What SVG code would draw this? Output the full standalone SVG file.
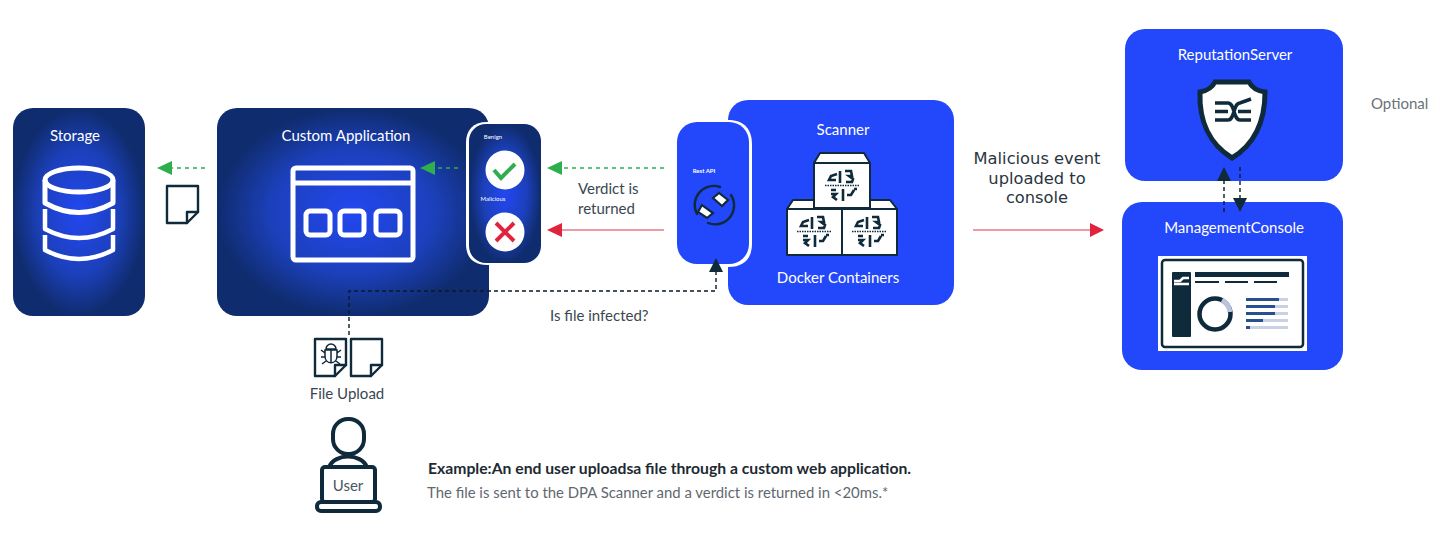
<svg xmlns="http://www.w3.org/2000/svg" width="1440" height="540" viewBox="0 0 1440 540">
<style>
text{font-family:"Lato","Noto Sans","Liberation Sans",sans-serif}
.w{fill:#fff;font-size:15px;text-anchor:middle}
.d{fill:#3a4750;font-size:15px}
.ic{fill:none;stroke:#fff;stroke-width:5;stroke-linejoin:round}
.k{fill:none;stroke:#0f2a3a;stroke-width:2.4;stroke-linejoin:round;stroke-linecap:round}
.gd{fill:none;stroke:#2fae4e;stroke-width:1.3;stroke-dasharray:4 4}
.bd{fill:none;stroke:#0c1a26;stroke-width:1.4;stroke-dasharray:4 3}
.rd{fill:none;stroke:#e57a85;stroke-width:1.6}
.b{fill:none;stroke:#0f2a3a;stroke-width:2.6}
.bar{fill:#c9d1e2}.fg{fill:#26508f}
</style>
<defs>
<radialGradient id="g"><stop offset="0" stop-color="#2347f0"/><stop offset="0.6" stop-color="#1c40bb"/><stop offset="1" stop-color="#0f2c6e"/></radialGradient>
<g id="brain">
<path class="b" d="M-2-15V-3M-5-12l-6 2-2 4h7M3-15h6l1 5h-3l4 3-1 3h-6"/>
<path d="M-17-0.5H17" fill="none" stroke="#0f2a3a" stroke-width="1.6" stroke-dasharray="1.5 1"/>
<path class="b" d="M-11 4h5M-11 8h5l-3 3 4 3M1 15V3M5 9h4l3-5M12 3h3"/>
</g>
<g id="file"><path class="k" d="M0 0H31V26L20 37H0Z"/><path class="k" d="M20 37V26H31"/></g>
</defs>

<g id="storage">
<rect x="13" y="108" width="132" height="208" rx="20" fill="url(#g)"/>
<text class="w" x="75" y="141">Storage</text>
<g class="ic">
<ellipse cx="79" cy="180" rx="34" ry="12"/>
<path d="M45 180V203Q79 222 113 203V180"/>
<path d="M45 209V229Q79 247 113 229V209" style="stroke-width:4.5"/>
<path d="M45 235V250Q79 268 113 250V235" style="stroke-width:4.5"/>
</g>
</g>

<g id="custom-application">
<rect x="217" y="108" width="272" height="208" rx="20" fill="url(#g)"/>
<text class="w" x="346" y="141">Custom Application</text>
<rect x="293" y="168" width="120" height="92" rx="3" class="ic"/>
<path d="M293 183H413" class="ic"/>
<rect x="306" y="211" width="24" height="24" rx="4" class="ic"/>
<rect x="340" y="211" width="24" height="24" rx="4" class="ic"/>
<rect x="376" y="211" width="24" height="24" rx="4" class="ic"/>
</g>

<g id="verdict">
<path d="M489 122H487C473 122 466 130 466 143V244C466 257 473 265 487 265H489Z" fill="#fff"/>
<rect x="469" y="124" width="72" height="139" rx="17" fill="url(#g)"/>
<text x="493" y="139" fill="#fff" font-size="6" text-anchor="middle">Benign</text>
<text x="493" y="201" fill="#fff" font-size="6" text-anchor="middle">Malicious</text>
<circle cx="505" cy="170" r="19.5" fill="#fff"/>
<path d="M494 170l7 8 14-14" fill="none" stroke="#2fae4e" stroke-width="4"/>
<circle cx="505" cy="232" r="19.5" fill="#fff"/>
<path d="M496 223l18 18M514 223l-18 18" fill="none" stroke="#e0243e" stroke-width="4"/>
</g>

<g id="scanner">
<rect x="728" y="100" width="226" height="205" rx="20" fill="#2347fb"/>
<path d="M728 120C745 120 752 130 752 145V243C752 258 745 267 728 267Z" fill="#fff"/>
<text class="w" x="843" y="135">Scanner</text>
<text class="w" x="838" y="283">Docker Containers</text>
<g fill="#fff" stroke="#0f2a3a" stroke-width="2" stroke-linejoin="round">
<path d="M814 163L820 153H864L870 163Z"/>
<rect x="814" y="163" width="56" height="45"/>
<path d="M787 209L793 200H814V209Z"/>
<path d="M870 200H890L897 209H870Z"/>
<rect x="787" y="209" width="55" height="46"/>
<rect x="842" y="209" width="55" height="46"/>
</g>
<use href="#brain" transform="translate(842 186)"/>
<use href="#brain" transform="translate(814 232)"/>
<use href="#brain" transform="translate(869 232)"/>
</g>

<g id="rest-api">
<rect x="677" y="122" width="72" height="142" rx="20" fill="#2347fb"/>
<text x="704" y="173" fill="#fff" font-size="6" text-anchor="middle" font-weight="700">Rest API</text>
<path d="M697 214A19 19 0 0 1 720 187M731 195A19 19 0 0 1 708 223" class="k"/>
<path d="M698 212l4-7 11 8-6 5ZM713 198l6-5 9 7-6 6Z" fill="#fff" stroke="#0f2a3a" stroke-width="2.2"/>
</g>

<g id="reputation-server">
<rect x="1125" y="29" width="218" height="152" rx="20" fill="#2347fb"/>
<text class="w" x="1235" y="60">ReputationServer</text>
<path d="M1215 82H1249C1252 88 1258 91 1265 92C1265 120 1255 144 1232 158C1209 144 1199 120 1200 92C1206 91 1212 88 1215 82Z" fill="#fff" stroke="#0f2a3a" stroke-width="5"/>
<path d="M1215 103H1228C1235 103 1233 120 1240 120H1251M1215 120H1228C1235 120 1233 103 1240 103L1251 99M1215 111.500H1228M1238 111.500H1251" fill="none" stroke="#0f2a3a" stroke-width="3.5"/>
</g>

<g id="management-console">
<rect x="1122" y="202" width="221" height="168" rx="20" fill="#2347fb"/>
<text class="w" x="1234" y="233">ManagementConsole</text>
<rect x="1158" y="256" width="149" height="95" fill="#fff"/>
<rect x="1162" y="260" width="141" height="87" rx="3" fill="#fff" stroke="#0f2a3a" stroke-width="2.500"/>
<rect x="1172" y="272" width="19" height="65" rx="1" fill="#0f2a3a"/>
<path d="M1174 281H1180L1183 278H1189M1174 284H1189" stroke="#fff" stroke-width="2.500" fill="none"/>
<rect x="1195" y="272" width="94" height="5" fill="#0f2a3a"/>
<path d="M1195 282H1219M1225 282H1248M1254 282H1277" stroke="#0f2a3a" stroke-width="2"/>
<circle cx="1215" cy="314" r="15.500" fill="none" stroke="#0f2a3a" stroke-width="4.500"/>
<path d="M1222 300A15.500 15.500 0 0 1 1230 312" fill="none" stroke="#b9c3dc" stroke-width="5"/>
<rect class="bar" x="1246" y="298" width="42" height="3"/><rect class="fg" x="1246" y="298" width="33" height="3"/>
<rect class="bar" x="1246" y="305" width="42" height="3"/><rect class="fg" x="1246" y="305" width="29" height="3"/>
<rect class="bar" x="1246" y="312" width="42" height="3"/><rect class="fg" x="1246" y="312" width="29" height="3"/>
<rect class="bar" x="1246" y="319" width="42" height="3"/><rect class="fg" x="1246" y="319" width="17" height="3"/>
<rect class="bar" x="1246" y="326" width="42" height="3"/><rect class="fg" x="1246" y="326" width="4" height="3"/>
</g>

<g id="connectors">
<path class="gd" d="M205 168H172"/><path d="M157 168L172 161V175Z" fill="#2fae4e"/>
<path class="gd" d="M458 168H435"/><path d="M420 168L435 161V175Z" fill="#2fae4e"/>
<path class="gd" d="M664 168H562"/><path d="M547 168L562 161V175Z" fill="#2fae4e"/>
<path class="rd" d="M664 230H562"/><path d="M547 230L562 223V237Z" fill="#e0243e"/>
<path class="rd" d="M973 230H1090"/><path d="M1104 230L1090 223V237Z" fill="#e0243e"/>
<path class="bd" d="M349 335V291H716V270"/><path d="M716 258L723 272H709Z" fill="#0f2a3a"/>
<path class="bd" d="M1224 212V180"/><path d="M1224 167L1231 181H1217Z" fill="#0f2a3a"/>
<path class="bd" d="M1240 167V198"/><path d="M1240 212L1233 198H1247Z" fill="#0f2a3a"/>
</g>

<g id="file-storage"><use href="#file" transform="translate(167 186)"/></g>
<g id="file-upload">
<use href="#file" transform="translate(315 339)"/>
<use href="#file" transform="translate(351 339)"/>
<path d="M326 349a5 5 0 0 1 10 0ZM325 350h12v6c0 9-12 9-12 0ZM331 350v13M325 353l-4-3M337 353l4-3M325 357h-4M337 357h4M326 361l-4 3M336 361l4 3" fill="none" stroke="#0f2a3a" stroke-width="1.500"/>
<text class="d" x="347" y="399" text-anchor="middle">File Upload</text>
</g>
<g id="user">
<rect x="333" y="419" width="31" height="35" rx="15" fill="none" stroke="#0f2a3a" stroke-width="4"/>
<path d="M329 467C335 453 361 453 367 467" fill="none" stroke="#0f2a3a" stroke-width="4"/>
<rect x="322" y="467" width="53" height="35" rx="3" fill="none" stroke="#0f2a3a" stroke-width="4"/>
<rect x="317" y="502" width="63" height="9" rx="4" fill="#fff" stroke="#0f2a3a" stroke-width="4"/>
<text class="d" x="348" y="491" text-anchor="middle" style="fill:#4a5660">User</text>
</g>

<text x="578" y="194" class="d">Verdict is</text>
<text x="578" y="214" class="d">returned</text>
<text x="550" y="321" class="d">Is file infected?</text>
<g font-size="16.300" text-anchor="middle" fill="#2a3640">
<text x="1037" y="164" style="font-family:'DejaVu Sans',sans-serif">Malicious event</text>
<text x="1037" y="184" style="font-family:'DejaVu Sans',sans-serif">uploaded to</text>
<text x="1037" y="203" style="font-family:'DejaVu Sans',sans-serif">console</text>
</g>
<text x="1371" y="109" fill="#6b7278" font-size="15">Optional</text>
<text x="428" y="474" fill="#1d2a33" font-size="15.730" font-weight="700">Example:An end user uploadsa file through a custom web application.</text>
<text x="427" y="498" fill="#5f686f" font-size="14.900">The file is sent to the DPA Scanner and a verdict is returned in &lt;20ms.*</text>
</svg>
